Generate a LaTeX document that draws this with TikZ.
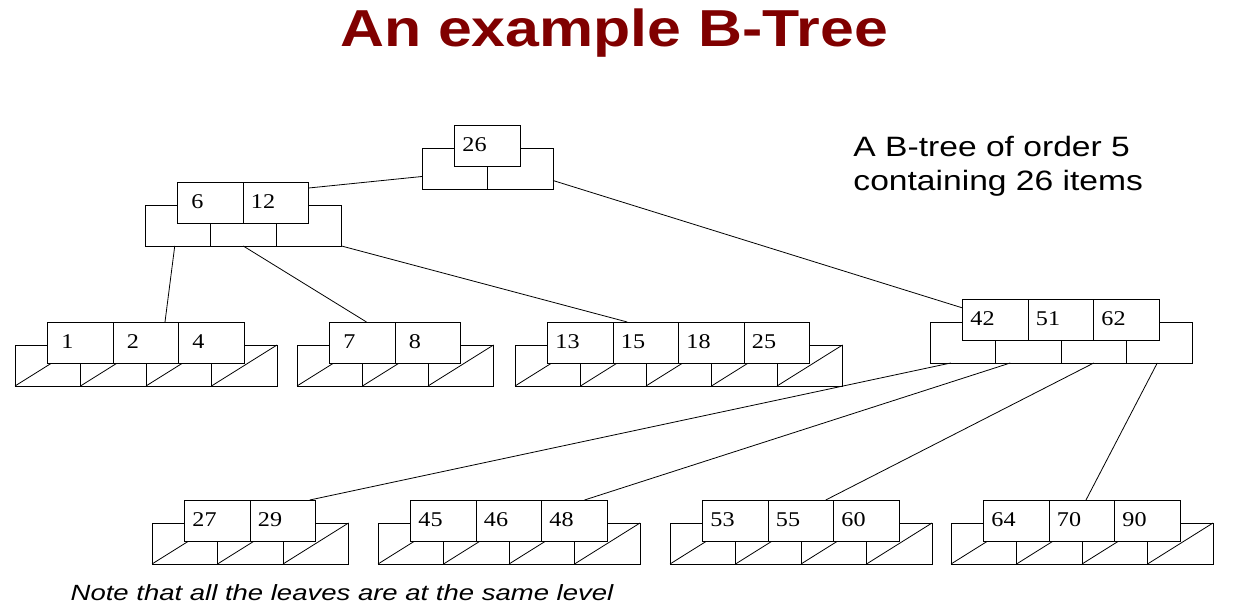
\documentclass[tikz,border=0pt]{standalone}
\usepackage{fontspec}
\setmainfont{Liberation Serif}
\newfontfamily\arialf{Liberation Sans}
\definecolor{titred}{RGB}{128,0,0}
\tikzset{
 pcell/.style={draw,fill=white,minimum width=65.5pt,minimum height=41pt,inner sep=0pt,outer sep=0pt},
 kcell/.style={draw,fill=white,minimum width=65.5pt,minimum height=41pt,inner sep=0pt,outer sep=0pt},
 ktext/.style={font=\fontsize{21}{21}\selectfont,inner sep=0pt,xscale=1.15},
 conn/.style={draw,line width=0.8pt}
}
\newcommand\btn[5]{%
 \foreach[count=\i] \k in {#5}{\xdef\nk{\i}}%
 \foreach \j in {0,...,\nk}{%
  \node[pcell] (#1-p\j) at ({#2+\j*65.5+32.75},{-(#3+43.5)}) {};
  \ifnum#4=1 \draw (#1-p\j.south west) -- (#1-p\j.north east);\fi
 }%
 \foreach[count=\i] \k in {#5}{%
  \node[kcell] (#1-k\i) at ({#2+32.75+(\i-1)*65.5+32.75},{-(#3+20.5)}) {};
  \node[ktext] (#1-t\i) at ([xshift=-13pt,yshift=1pt]#1-k\i.center) {\k};
 }%
}
\begin{document}
\begin{tikzpicture}[x=1pt,y=1pt,line width=0.8pt]
\useasboundingbox (0,0) rectangle (1236,-609);
\node[font=\arialf\bfseries\fontsize{52}{52}\selectfont,text=titred,xscale=1.17] (title) at (614,-33) {An example B-Tree};
\node[font=\arialf\fontsize{28}{34}\selectfont,align=left,anchor=north west,xscale=1.2] (desc) at (849,-132) {A B-tree of order 5\\containing 26 items};
\node[font=\arialf\itshape\fontsize{22}{22}\selectfont,anchor=west,xscale=1.25] (note) at (66,-593) {Note that all the leaves are at the same level};
\btn{R}{422}{125}{0}{26}
\btn{I}{145}{182}{0}{6,12}
\btn{RI}{930}{299}{0}{42,51,62}
\btn{A}{15}{322}{1}{1,2,4}
\btn{B}{297}{322}{1}{7,8}
\btn{C}{515}{322}{1}{13,15,18,25}
\btn{X}{152}{500}{1}{27,29}
\btn{Y}{378}{500}{1}{45,46,48}
\btn{Z}{670}{500}{1}{53,55,60}
\btn{W}{951}{500}{1}{64,70,90}
\draw[conn] ([yshift=-8pt]R-p0.west) -- ([yshift=-6pt]I-k2.north east);
\draw[conn] ([yshift=-12pt]R-p1.east) -- ([yshift=-9pt]RI-k1.north west);
\draw[conn] ([xshift=-3pt]I-p0.south) -- ([xshift=19pt]A-k2.north);
\draw[conn] (I-p1.south) -- ([xshift=4pt]B-k1.north);
\draw[conn] (I-p2.south east) -- ([xshift=14pt]C-k2.north west);
\draw[conn] ([xshift=-12pt]RI-p0.south) -- ([xshift=-6pt]X-k2.north east);
\draw[conn] ([xshift=-18pt]RI-p1.south) -- ([xshift=10pt]Y-k3.north);
\draw[conn] (RI-p2.south) -- ([xshift=-8pt]Z-k2.north east);
\draw[conn] ([xshift=-2pt]RI-p3.south) -- ([xshift=4pt]W-k2.north);
\end{tikzpicture}
\end{document}
